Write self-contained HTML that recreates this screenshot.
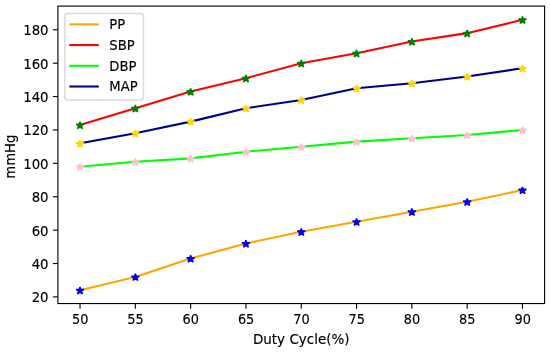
<!DOCTYPE html><html><head><meta charset="utf-8"><title>Duty Cycle</title>
<style>html,body{margin:0;padding:0;background:#fff}svg{display:block}text{font-family:"DejaVu Sans","Liberation Sans",sans-serif;fill:#000;stroke:#000;stroke-width:0.15px}</style></head><body>
<svg width="550" height="352" viewBox="0 0 550 352">
<rect width="550" height="352" fill="#fff"/>
<polyline points="80.02,290.24 135.33,276.89 190.64,258.52 245.94,243.50 301.25,231.81 356.56,221.80 411.86,211.78 467.17,201.76 522.48,190.08" fill="none" stroke="#ffa500" stroke-width="2.083" stroke-linecap="square" stroke-linejoin="round"/>
<polyline points="80.02,124.97 135.33,108.27 190.64,91.58 245.94,78.22 301.25,63.20 356.56,53.18 411.86,41.49 467.17,33.15 522.48,19.79" fill="none" stroke="#ff0000" stroke-width="2.083" stroke-linecap="square" stroke-linejoin="round"/>
<polyline points="80.02,166.70 135.33,161.69 190.64,158.36 245.94,151.68 301.25,146.67 356.56,141.66 411.86,138.32 467.17,134.98 522.48,129.97" fill="none" stroke="#00ff00" stroke-width="2.083" stroke-linecap="square" stroke-linejoin="round"/>
<polyline points="80.02,143.33 135.33,133.31 190.64,121.63 245.94,108.27 301.25,99.92 356.56,88.24 411.86,83.23 467.17,76.55 522.48,68.20" fill="none" stroke="#00008b" stroke-width="2.083" stroke-linecap="square" stroke-linejoin="round"/>
<path d="M80.02 287.05 L79.09 289.46 L76.06 289.46 L78.51 291.04 L77.57 293.91 L80.02 292.14 L82.47 293.91 L81.54 291.04 L83.98 289.46 L80.96 289.46Z M135.33 273.69 L134.39 276.11 L131.37 276.11 L133.82 277.68 L132.88 280.56 L135.33 278.78 L137.78 280.56 L136.84 277.68 L139.29 276.11 L136.26 276.11Z M190.64 255.33 L189.70 257.74 L186.68 257.74 L189.12 259.32 L188.19 262.19 L190.64 260.42 L193.08 262.19 L192.15 259.32 L194.60 257.74 L191.57 257.74Z M245.94 240.30 L245.01 242.72 L241.98 242.72 L244.43 244.29 L243.50 247.17 L245.94 245.39 L248.39 247.17 L247.46 244.29 L249.90 242.72 L246.88 242.72Z M301.25 228.61 L300.31 231.03 L297.29 231.03 L299.74 232.60 L298.80 235.48 L301.25 233.70 L303.70 235.48 L302.76 232.60 L305.21 231.03 L302.19 231.03Z M356.56 218.60 L355.62 221.01 L352.60 221.01 L355.04 222.59 L354.11 225.47 L356.56 223.69 L359.00 225.47 L358.07 222.59 L360.52 221.01 L357.49 221.01Z M411.86 208.58 L410.93 211.00 L407.90 211.00 L410.35 212.57 L409.42 215.45 L411.86 213.67 L414.31 215.45 L413.38 212.57 L415.82 211.00 L412.80 211.00Z M467.17 198.56 L466.24 200.98 L463.21 200.98 L465.66 202.55 L464.72 205.43 L467.17 203.65 L469.62 205.43 L468.68 202.55 L471.13 200.98 L468.11 200.98Z M522.48 186.88 L521.54 189.29 L518.52 189.29 L520.96 190.87 L520.03 193.75 L522.48 191.97 L524.93 193.75 L523.99 190.87 L526.44 189.29 L523.41 189.29Z" fill="#0000ff" stroke="#0000ff" stroke-width="1.39" stroke-linejoin="bevel"/>
<path d="M80.02 121.77 L79.09 124.19 L76.06 124.19 L78.51 125.76 L77.57 128.64 L80.02 126.86 L82.47 128.64 L81.54 125.76 L83.98 124.19 L80.96 124.19Z M135.33 105.07 L134.39 107.49 L131.37 107.49 L133.82 109.06 L132.88 111.94 L135.33 110.16 L137.78 111.94 L136.84 109.06 L139.29 107.49 L136.26 107.49Z M190.64 88.38 L189.70 90.80 L186.68 90.80 L189.12 92.37 L188.19 95.25 L190.64 93.47 L193.08 95.25 L192.15 92.37 L194.60 90.80 L191.57 90.80Z M245.94 75.02 L245.01 77.44 L241.98 77.44 L244.43 79.01 L243.50 81.89 L245.94 80.11 L248.39 81.89 L247.46 79.01 L249.90 77.44 L246.88 77.44Z M301.25 60.00 L300.31 62.41 L297.29 62.41 L299.74 63.99 L298.80 66.87 L301.25 65.09 L303.70 66.87 L302.76 63.99 L305.21 62.41 L302.19 62.41Z M356.56 49.98 L355.62 52.40 L352.60 52.40 L355.04 53.97 L354.11 56.85 L356.56 55.07 L359.00 56.85 L358.07 53.97 L360.52 52.40 L357.49 52.40Z M411.86 38.29 L410.93 40.71 L407.90 40.71 L410.35 42.28 L409.42 45.16 L411.86 43.38 L414.31 45.16 L413.38 42.28 L415.82 40.71 L412.80 40.71Z M467.17 29.95 L466.24 32.36 L463.21 32.36 L465.66 33.94 L464.72 36.82 L467.17 35.04 L469.62 36.82 L468.68 33.94 L471.13 32.36 L468.11 32.36Z M522.48 16.59 L521.54 19.01 L518.52 19.01 L520.96 20.58 L520.03 23.46 L522.48 21.68 L524.93 23.46 L523.99 20.58 L526.44 19.01 L523.41 19.01Z" fill="#008000" stroke="#008000" stroke-width="1.39" stroke-linejoin="bevel"/>
<path d="M80.02 163.50 L79.09 165.92 L76.06 165.92 L78.51 167.49 L77.57 170.37 L80.02 168.59 L82.47 170.37 L81.54 167.49 L83.98 165.92 L80.96 165.92Z M135.33 158.50 L134.39 160.91 L131.37 160.91 L133.82 162.49 L132.88 165.36 L135.33 163.59 L137.78 165.36 L136.84 162.49 L139.29 160.91 L136.26 160.91Z M190.64 155.16 L189.70 157.57 L186.68 157.57 L189.12 159.15 L188.19 162.03 L190.64 160.25 L193.08 162.03 L192.15 159.15 L194.60 157.57 L191.57 157.57Z M245.94 148.48 L245.01 150.90 L241.98 150.90 L244.43 152.47 L243.50 155.35 L245.94 153.57 L248.39 155.35 L247.46 152.47 L249.90 150.90 L246.88 150.90Z M301.25 143.47 L300.31 145.89 L297.29 145.89 L299.74 147.46 L298.80 150.34 L301.25 148.56 L303.70 150.34 L302.76 147.46 L305.21 145.89 L302.19 145.89Z M356.56 138.46 L355.62 140.88 L352.60 140.88 L355.04 142.45 L354.11 145.33 L356.56 143.55 L359.00 145.33 L358.07 142.45 L360.52 140.88 L357.49 140.88Z M411.86 135.12 L410.93 137.54 L407.90 137.54 L410.35 139.11 L409.42 141.99 L411.86 140.21 L414.31 141.99 L413.38 139.11 L415.82 137.54 L412.80 137.54Z M467.17 131.78 L466.24 134.20 L463.21 134.20 L465.66 135.77 L464.72 138.65 L467.17 136.87 L469.62 138.65 L468.68 135.77 L471.13 134.20 L468.11 134.20Z M522.48 126.78 L521.54 129.19 L518.52 129.19 L520.96 130.77 L520.03 133.64 L522.48 131.87 L524.93 133.64 L523.99 130.77 L526.44 129.19 L523.41 129.19Z" fill="#ffc0cb" stroke="#ffc0cb" stroke-width="1.39" stroke-linejoin="bevel"/>
<path d="M80.02 140.13 L79.09 142.55 L76.06 142.55 L78.51 144.12 L77.57 147.00 L80.02 145.22 L82.47 147.00 L81.54 144.12 L83.98 142.55 L80.96 142.55Z M135.33 130.12 L134.39 132.53 L131.37 132.53 L133.82 134.11 L132.88 136.98 L135.33 135.20 L137.78 136.98 L136.84 134.11 L139.29 132.53 L136.26 132.53Z M190.64 118.43 L189.70 120.85 L186.68 120.85 L189.12 122.42 L188.19 125.30 L190.64 123.52 L193.08 125.30 L192.15 122.42 L194.60 120.85 L191.57 120.85Z M245.94 105.07 L245.01 107.49 L241.98 107.49 L244.43 109.06 L243.50 111.94 L245.94 110.16 L248.39 111.94 L247.46 109.06 L249.90 107.49 L246.88 107.49Z M301.25 96.73 L300.31 99.14 L297.29 99.14 L299.74 100.72 L298.80 103.59 L301.25 101.82 L303.70 103.59 L302.76 100.72 L305.21 99.14 L302.19 99.14Z M356.56 85.04 L355.62 87.46 L352.60 87.46 L355.04 89.03 L354.11 91.91 L356.56 90.13 L359.00 91.91 L358.07 89.03 L360.52 87.46 L357.49 87.46Z M411.86 80.03 L410.93 82.45 L407.90 82.45 L410.35 84.02 L409.42 86.90 L411.86 85.12 L414.31 86.90 L413.38 84.02 L415.82 82.45 L412.80 82.45Z M467.17 73.35 L466.24 75.77 L463.21 75.77 L465.66 77.34 L464.72 80.22 L467.17 78.44 L469.62 80.22 L468.68 77.34 L471.13 75.77 L468.11 75.77Z M522.48 65.01 L521.54 67.42 L518.52 67.42 L520.96 69.00 L520.03 71.87 L522.48 70.10 L524.93 71.87 L523.99 69.00 L526.44 67.42 L523.41 67.42Z" fill="#ffd700" stroke="#ffd700" stroke-width="1.39" stroke-linejoin="bevel"/>
<g stroke="#000" stroke-width="1.11">
<line x1="80.02" y1="303.55" x2="80.02" y2="308.75"/>
<line x1="135.33" y1="303.55" x2="135.33" y2="308.75"/>
<line x1="190.64" y1="303.55" x2="190.64" y2="308.75"/>
<line x1="245.94" y1="303.55" x2="245.94" y2="308.75"/>
<line x1="301.25" y1="303.55" x2="301.25" y2="308.75"/>
<line x1="356.56" y1="303.55" x2="356.56" y2="308.75"/>
<line x1="411.86" y1="303.55" x2="411.86" y2="308.75"/>
<line x1="467.17" y1="303.55" x2="467.17" y2="308.75"/>
<line x1="522.48" y1="303.55" x2="522.48" y2="308.75"/>
<line x1="57.9" y1="296.92" x2="52.90" y2="296.92"/>
<line x1="57.9" y1="263.53" x2="52.90" y2="263.53"/>
<line x1="57.9" y1="230.14" x2="52.90" y2="230.14"/>
<line x1="57.9" y1="196.75" x2="52.90" y2="196.75"/>
<line x1="57.9" y1="163.36" x2="52.90" y2="163.36"/>
<line x1="57.9" y1="129.97" x2="52.90" y2="129.97"/>
<line x1="57.9" y1="96.59" x2="52.90" y2="96.59"/>
<line x1="57.9" y1="63.20" x2="52.90" y2="63.20"/>
<line x1="57.9" y1="29.81" x2="52.90" y2="29.81"/>
</g>
<g font-size="13.89">
<text transform="translate(80.17,323.70) scale(0.93,1.04)" text-anchor="middle" font-size="13.89">50</text>
<text transform="translate(135.48,323.70) scale(0.93,1.04)" text-anchor="middle" font-size="13.89">55</text>
<text transform="translate(190.79,323.70) scale(0.93,1.04)" text-anchor="middle" font-size="13.89">60</text>
<text transform="translate(246.09,323.70) scale(0.93,1.04)" text-anchor="middle" font-size="13.89">65</text>
<text transform="translate(301.40,323.70) scale(0.93,1.04)" text-anchor="middle" font-size="13.89">70</text>
<text transform="translate(356.71,323.70) scale(0.93,1.04)" text-anchor="middle" font-size="13.89">75</text>
<text transform="translate(412.01,323.70) scale(0.93,1.04)" text-anchor="middle" font-size="13.89">80</text>
<text transform="translate(467.32,323.70) scale(0.93,1.04)" text-anchor="middle" font-size="13.89">85</text>
<text transform="translate(522.63,323.70) scale(0.93,1.04)" text-anchor="middle" font-size="13.89">90</text>
<text transform="translate(48.60,302.35) scale(0.96,1.06)" text-anchor="end" font-size="13.89">20</text>
<text transform="translate(48.60,268.96) scale(0.96,1.06)" text-anchor="end" font-size="13.89">40</text>
<text transform="translate(48.60,235.57) scale(0.96,1.06)" text-anchor="end" font-size="13.89">60</text>
<text transform="translate(48.60,202.18) scale(0.96,1.06)" text-anchor="end" font-size="13.89">80</text>
<text transform="translate(48.60,168.79) scale(0.96,1.06)" text-anchor="end" font-size="13.89">100</text>
<text transform="translate(48.60,135.40) scale(0.96,1.06)" text-anchor="end" font-size="13.89">120</text>
<text transform="translate(48.60,102.01) scale(0.96,1.06)" text-anchor="end" font-size="13.89">140</text>
<text transform="translate(48.60,68.62) scale(0.96,1.06)" text-anchor="end" font-size="13.89">160</text>
<text transform="translate(48.60,35.23) scale(0.96,1.06)" text-anchor="end" font-size="13.89">180</text>
<text transform="translate(301.25,343.55) scale(0.972,1.04)" text-anchor="middle" font-size="13.89">Duty Cycle(%)</text>
<text transform="translate(14.70,156.63) rotate(-90) scale(0.955,1.04)" text-anchor="middle" font-size="13.89">mmHg</text>
</g>
<rect x="57.9" y="6.1" width="486.70" height="297.45" fill="none" stroke="#000" stroke-width="1.11"/>
<rect x="64.84" y="13.55" width="78.6" height="86.55" rx="2.8" fill="#fff" fill-opacity="0.8" stroke="#ccc" stroke-opacity="0.7" stroke-width="1.5"/>
<line x1="70.40" y1="24.35" x2="97.78" y2="24.35" stroke="#ffa500" stroke-width="2.083" stroke-linecap="square"/>
<text transform="translate(109.29,29.10) scale(0.95,1.02)" text-anchor="start" font-size="13.89">PP</text>
<line x1="70.40" y1="45.07" x2="97.78" y2="45.07" stroke="#ff0000" stroke-width="2.083" stroke-linecap="square"/>
<text transform="translate(109.29,49.82) scale(0.95,1.02)" text-anchor="start" font-size="13.89">SBP</text>
<line x1="70.40" y1="65.79" x2="97.78" y2="65.79" stroke="#00ff00" stroke-width="2.083" stroke-linecap="square"/>
<text transform="translate(109.29,70.54) scale(0.95,1.02)" text-anchor="start" font-size="13.89">DBP</text>
<line x1="70.40" y1="86.51" x2="97.78" y2="86.51" stroke="#00008b" stroke-width="2.083" stroke-linecap="square"/>
<text transform="translate(109.29,91.26) scale(0.95,1.02)" text-anchor="start" font-size="13.89">MAP</text>
</svg></body></html>
